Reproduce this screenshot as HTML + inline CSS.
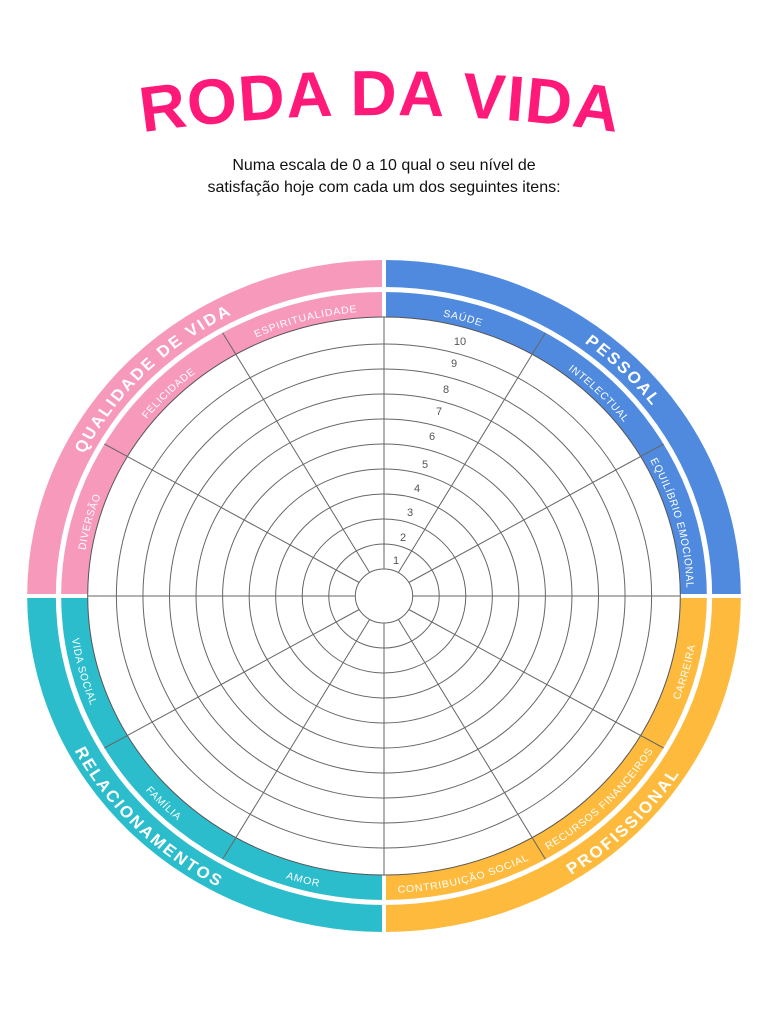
<!DOCTYPE html>
<html><head><meta charset="utf-8"><style>
html,body{margin:0;padding:0;background:#fff;}
svg{display:block;}
</style></head><body>
<svg width="768" height="1024" viewBox="0 0 768 1024" xmlns="http://www.w3.org/2000/svg" font-family="'Liberation Sans', sans-serif">
<defs>
<path id="tp" d="M100,139 A1660,1660 0 0 1 660,139"/>
</defs>
<text font-size="64" font-weight="bold" fill="#FF1A7A" text-anchor="middle" letter-spacing="1"><textPath href="#tp" startOffset="50%">RODA DA VIDA</textPath></text>
<text x="384" y="170" font-size="16" fill="#111" text-anchor="middle">Numa escala de 0 a 10 qual o seu nível de</text>
<text x="384" y="192" font-size="16" fill="#111" text-anchor="middle">satisfação hoje com cada um dos seguintes itens:</text>

<g transform="translate(384,596) scale(1.062,1)">
<defs>
<path id="s1" d="M0,-285 A285,285 0 0 1 142.5,-246.8"/>
<path id="s2" d="M142.5,-246.8 A285,285 0 0 1 246.8,-142.5"/>
<path id="s3" d="M246.8,-142.5 A285,285 0 0 1 285,0"/>
<path id="s10" d="M-285,0 A285,285 0 0 1 -246.8,-142.5"/>
<path id="s11" d="M-246.8,-142.5 A285,285 0 0 1 -142.5,-246.8"/>
<path id="s12" d="M-142.5,-246.8 A285,285 0 0 1 0,-285"/>
<path id="s4" d="M257.2,148.5 A297,297 0 0 0 297,0"/>
<path id="s5" d="M148.5,257.2 A297,297 0 0 0 257.2,148.5"/>
<path id="s6" d="M0,297 A297,297 0 0 0 148.5,257.2"/>
<path id="s7" d="M-148.5,257.2 A297,297 0 0 0 0,297"/>
<path id="s8" d="M-257.2,148.5 A297,297 0 0 0 -148.5,257.2"/>
<path id="s9" d="M-297,0 A297,297 0 0 0 -257.2,148.5"/>
<path id="c1" d="M-316,0 A316,316 0 0 1 0,-316"/>
<path id="c2" d="M0,-316 A316,316 0 0 1 316,0"/>
<path id="c3" d="M0,330 A330,330 0 0 0 330,0"/>
<path id="c4" d="M-330,0 A330,330 0 0 0 0,330"/>
</defs>
<path d="M-336,0 A336,336 0 0 1 0,-336 L0,-309 A309,309 0 0 0 -309,0 Z" fill="#F799BB"/>
<path d="M0,-336 A336,336 0 0 1 336,0 L309,0 A309,309 0 0 0 0,-309 Z" fill="#4F8ADF"/>
<path d="M336,0 A336,336 0 0 1 0,336 L0,309 A309,309 0 0 0 309,0 Z" fill="#FDBA3C"/>
<path d="M0,336 A336,336 0 0 1 -336,0 L-309,0 A309,309 0 0 0 0,309 Z" fill="#2CBDCD"/>
<path d="M-304,0 A304,304 0 0 1 0,-304 L0,-279 A279,279 0 0 0 -279,0 Z" fill="#F799BB"/>
<path d="M0,-304 A304,304 0 0 1 304,0 L279,0 A279,279 0 0 0 0,-279 Z" fill="#4F8ADF"/>
<path d="M304,0 A304,304 0 0 1 0,304 L0,279 A279,279 0 0 0 279,0 Z" fill="#FDBA3C"/>
<path d="M0,304 A304,304 0 0 1 -304,0 L-279,0 A279,279 0 0 0 0,279 Z" fill="#2CBDCD"/>
<g stroke="#fff" stroke-width="4">
<line x1="0" y1="-279" x2="0" y2="-340" vector-effect="non-scaling-stroke"/>
<line x1="0" y1="279" x2="0" y2="340" vector-effect="non-scaling-stroke"/>
<line x1="279" y1="0" x2="340" y2="0" vector-effect="non-scaling-stroke"/>
<line x1="-279" y1="0" x2="-340" y2="0" vector-effect="non-scaling-stroke"/>
</g>
<g fill="none" stroke="#666" stroke-width="1">
<circle r="27" vector-effect="non-scaling-stroke"/>
<circle r="52" vector-effect="non-scaling-stroke"/>
<circle r="77" vector-effect="non-scaling-stroke"/>
<circle r="102" vector-effect="non-scaling-stroke"/>
<circle r="127" vector-effect="non-scaling-stroke"/>
<circle r="152" vector-effect="non-scaling-stroke"/>
<circle r="177" vector-effect="non-scaling-stroke"/>
<circle r="202" vector-effect="non-scaling-stroke"/>
<circle r="227" vector-effect="non-scaling-stroke"/>
<circle r="252" vector-effect="non-scaling-stroke"/>
<circle r="279" stroke="#555" vector-effect="non-scaling-stroke"/>
</g>
<g stroke="#666" stroke-width="1">
<line x1="27" y1="0" x2="279" y2="0" vector-effect="non-scaling-stroke"/>
<line x1="27" y1="0" x2="279" y2="0" transform="rotate(90)" vector-effect="non-scaling-stroke"/>
<line x1="27" y1="0" x2="279" y2="0" transform="rotate(180)" vector-effect="non-scaling-stroke"/>
<line x1="27" y1="0" x2="279" y2="0" transform="rotate(270)" vector-effect="non-scaling-stroke"/>
<line x1="27" y1="0" x2="304" y2="0" transform="rotate(30)" vector-effect="non-scaling-stroke"/>
<line x1="27" y1="0" x2="304" y2="0" transform="rotate(60)" vector-effect="non-scaling-stroke"/>
<line x1="27" y1="0" x2="304" y2="0" transform="rotate(120)" vector-effect="non-scaling-stroke"/>
<line x1="27" y1="0" x2="304" y2="0" transform="rotate(150)" vector-effect="non-scaling-stroke"/>
<line x1="27" y1="0" x2="304" y2="0" transform="rotate(210)" vector-effect="non-scaling-stroke"/>
<line x1="27" y1="0" x2="304" y2="0" transform="rotate(240)" vector-effect="non-scaling-stroke"/>
<line x1="27" y1="0" x2="304" y2="0" transform="rotate(300)" vector-effect="non-scaling-stroke"/>
<line x1="27" y1="0" x2="304" y2="0" transform="rotate(330)" vector-effect="non-scaling-stroke"/>
</g>
<g font-size="10" fill="#fff" text-anchor="middle" letter-spacing="0.7">
<text><textPath href="#s1" startOffset="50%">SAÚDE</textPath></text>
<text><textPath href="#s2" startOffset="50%">INTELECTUAL</textPath></text>
<text><textPath href="#s3" startOffset="50%">EQUILÍBRIO EMOCIONAL</textPath></text>
<text><textPath href="#s10" startOffset="50%">DIVERSÃO</textPath></text>
<text><textPath href="#s11" startOffset="50%">FELICIDADE</textPath></text>
<text><textPath href="#s12" startOffset="50%">ESPIRITUALIDADE</textPath></text>
<text><textPath href="#s4" startOffset="50%">CARREIRA</textPath></text>
<text><textPath href="#s5" startOffset="50%">RECURSOS FINANCEIROS</textPath></text>
<text><textPath href="#s6" startOffset="50%">CONTRIBUIÇÃO SOCIAL</textPath></text>
<text><textPath href="#s7" startOffset="50%">AMOR</textPath></text>
<text><textPath href="#s8" startOffset="50%">FAMÍLIA</textPath></text>
<text><textPath href="#s9" startOffset="50%">VIDA SOCIAL</textPath></text>
</g>
<g font-size="16" font-weight="bold" fill="#fff" text-anchor="middle" letter-spacing="2.2">
<text><textPath href="#c1" startOffset="50%">QUALIDADE DE VIDA</textPath></text>
<text><textPath href="#c2" startOffset="50%">PESSOAL</textPath></text>
<text><textPath href="#c3" startOffset="50%">PROFISSIONAL</textPath></text>
<text><textPath href="#c4" startOffset="50%">RELACIONAMENTOS</textPath></text>
</g>
</g>
<g font-size="11" fill="#555" text-anchor="middle">
<text x="396" y="564">1</text>
<text x="403" y="541">2</text>
<text x="410" y="516">3</text>
<text x="417" y="492">4</text>
<text x="425" y="468">5</text>
<text x="432" y="440">6</text>
<text x="439" y="415">7</text>
<text x="446" y="393">8</text>
<text x="454" y="367">9</text>
<text x="460" y="345">10</text>
</g>
</svg>
</body></html>
